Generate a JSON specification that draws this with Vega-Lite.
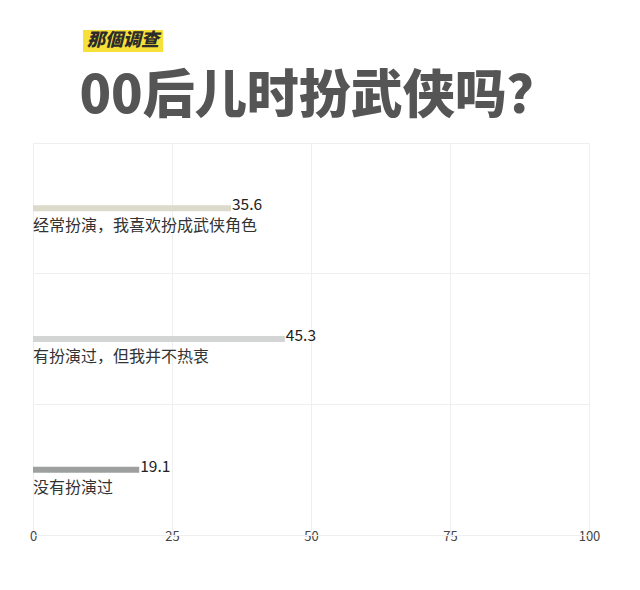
{
  "$schema": "https://vega.github.io/schema/vega-lite/v6.json",
  "padding": {"left": 29, "top": 30, "right": 10, "bottom": 10},
  "background": "#ffffff",
  "config": {"view": {"stroke": null}, "font": "Noto Sans CJK SC"},
  "spacing": 19,
  "vconcat": [
    {
      "hconcat": [
        {
          "width": 30, "height": 22,
          "data": {"values": []},
          "mark": {"type": "text"},
          "encoding": {}
        },
        {
          "width": 80, "height": 22,
          "view": {"fill": "#f8e03a", "stroke": null},
          "data": {"values": [{"tag": "那個调查"}]},
          "mark": {"type": "text", "font": "Noto Sans CJK SC", "fontWeight": 900, "fontStyle": "italic", "fontSize": 18, "color": "#2b2b2b", "baseline": "middle", "align": "center"},
          "encoding": {"text": {"field": "tag"}}
        }
      ],
      "spacing": 20
    },
    {
      "width": 556,
      "height": 392,
      "title": {
        "text": "00后儿时扮武侠吗？",
        "anchor": "start",
        "dx": 50,
        "offset": 19,
        "font": "Noto Sans CJK SC",
        "fontWeight": 900,
        "fontSize": 52,
        "color": "#555555"
      },
      "data": {
        "values": [
          {"label": "经常扮演，我喜欢扮成武侠角色", "value": 35.6, "order": 1},
          {"label": "有扮演过，但我并不热衷", "value": 45.3, "order": 2},
          {"label": "没有扮演过", "value": 19.1, "order": 3}
        ]
      },
      "encoding": {
        "y": {
          "field": "label", "type": "nominal",
          "sort": {"field": "order"},
          "scale": {"paddingInner": 0, "paddingOuter": 0},
          "axis": {"labels": false, "ticks": false, "domain": false, "title": null, "grid": true, "bandPosition": 0, "gridColor": "#efefef", "gridWidth": 1}
        }
      },
      "layer": [
        {
          "mark": {"type": "bar", "size": 6},
          "encoding": {
            "x": {
              "field": "value", "type": "quantitative",
              "scale": {"domain": [0, 100]},
              "axis": {"values": [0, 25, 50, 75, 100], "title": null, "grid": true, "gridColor": "#efefef", "domainColor": "#efefef", "ticks": false, "labelFlush": false, "labelBaseline": "middle", "labelPadding": 1, "labelFontSize": 13, "labelColor": "#444444", "labelFont": "Noto Sans CJK SC"}
            },
            "color": {
              "field": "label", "type": "nominal",
              "scale": {"domain": ["经常扮演，我喜欢扮成武侠角色", "有扮演过，但我并不热衷", "没有扮演过"], "range": ["#dcdacb", "#d2d5d3", "#9e9f9f"]},
              "legend": null
            }
          }
        },
        {
          "mark": {"type": "text", "align": "left", "baseline": "middle", "dx": 1, "dy": -3, "fontSize": 15.5, "color": "#222222"},
          "encoding": {
            "x": {"field": "value", "type": "quantitative"},
            "text": {"field": "value", "type": "quantitative", "format": ".1f"}
          }
        },
        {
          "mark": {"type": "text", "align": "left", "baseline": "middle", "dy": 18, "fontSize": 16, "color": "#333333"},
          "encoding": {
            "x": {"datum": 0},
            "text": {"field": "label"}
          }
        }
      ]
    }
  ]
}
